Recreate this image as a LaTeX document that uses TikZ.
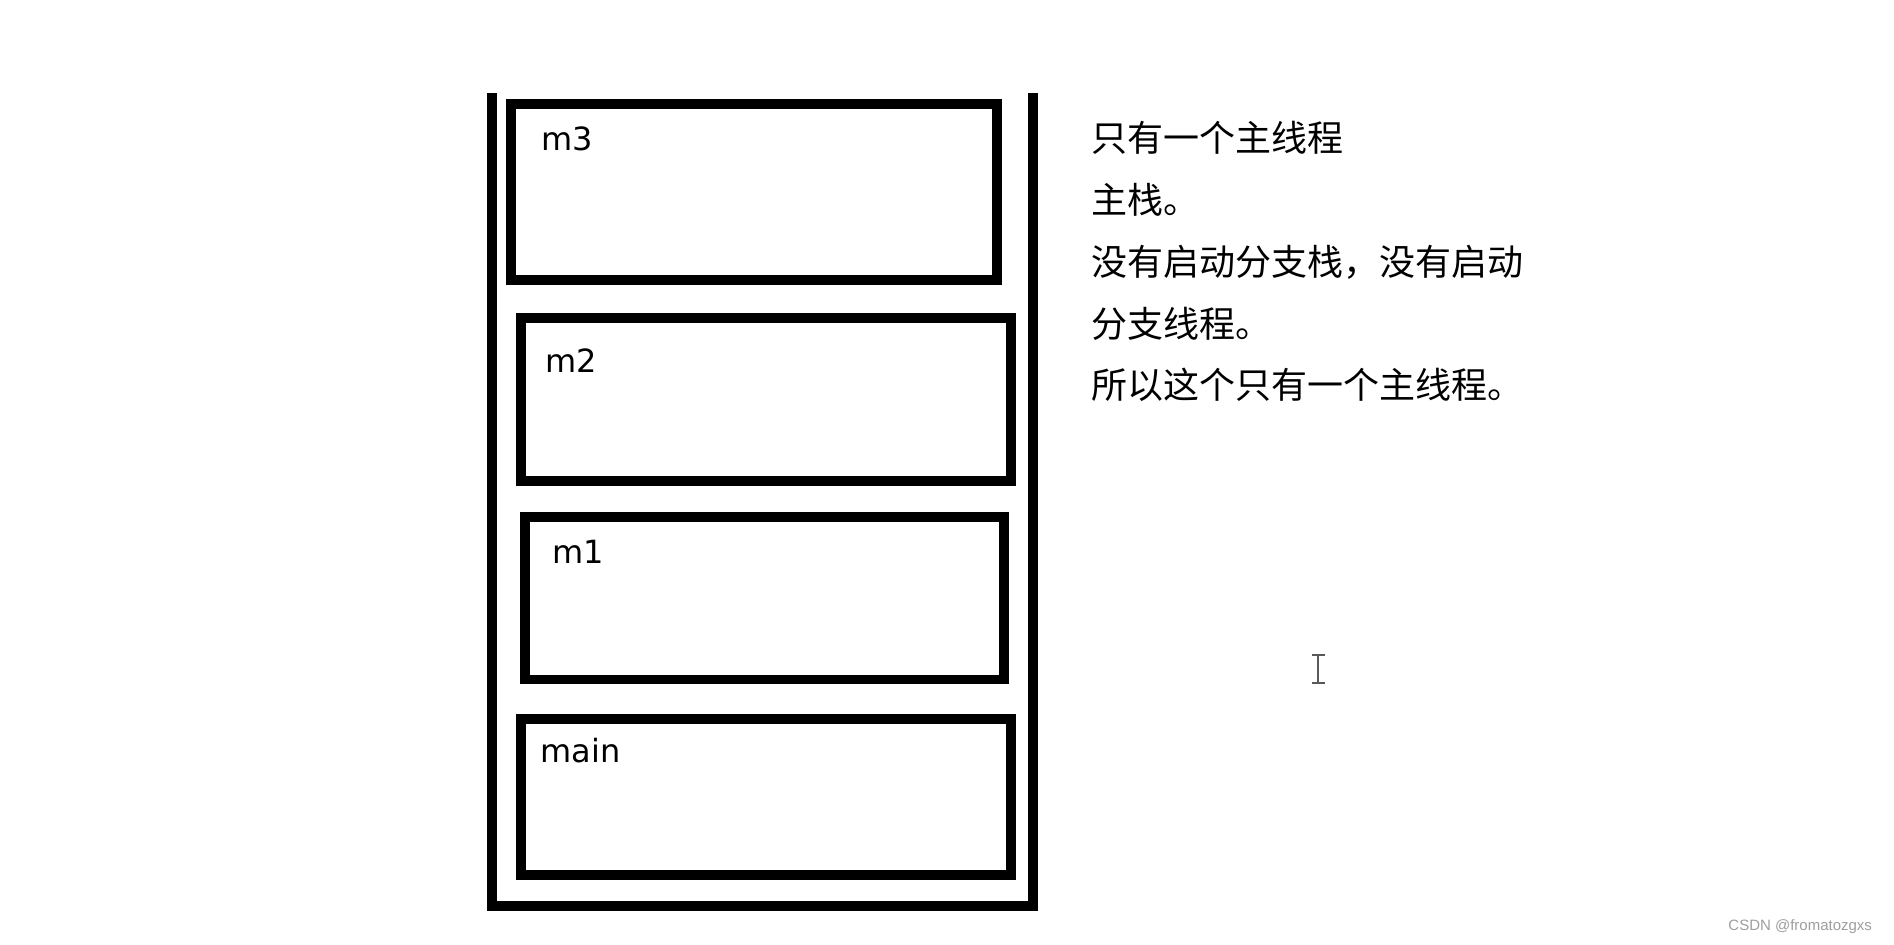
\documentclass[tikz,border=0pt]{standalone}
\usepackage{fontspec}
\setmainfont{DejaVu Sans}
\newfontfamily\cjk{Noto Sans CJK SC}
\newfontfamily\wmfont{Liberation Sans}
\usepackage{xcolor}
\usepackage{tikz}
\usetikzlibrary{positioning}

\begin{document}
\begin{tikzpicture}[x=0.5pt, y=-0.5pt,
  frame/.style={draw, line width=4.8pt, inner sep=0pt},
  lbl/.style={anchor=base west, inner sep=0pt, font=\fontsize{16pt}{19pt}\selectfont},
  note/.style={anchor=base west, inner sep=0pt, font=\cjk\fontsize{18pt}{22pt}\selectfont},
  wall/.style={line width=4.8pt},
  cursor/.style={line width=1pt, color=black!65}]
\useasboundingbox (0,0) rectangle (1894,944);
% the stack, open at the top
\draw[wall] (492,93) -- (492,906) -- (1033,906) -- (1033,93);
% frames
\node[frame, minimum width=243pt, minimum height=88pt] (m3box) at (754,192) {};
\node[frame, minimum width=245pt, minimum height=81.5pt] (m2box) at (766,399.5) {};
\node[frame, minimum width=239.5pt, minimum height=81.25pt] (m1box) at (764.5,598.25) {};
\node[frame, minimum width=245pt, minimum height=77.85pt] (mainbox) at (766,796.85) {};
\node[lbl] (m3) at (541,150) {m3};
\node[lbl] (m2) at (545,372.7) {m2};
\node[lbl] (m1) at (552,563) {m1};
\node[lbl] (main) at (540,762) {main};
% notes on the right
\node[note] (n1) at (1091,151) {只有一个主线程};
\node[note] (n2) at (1091,213) {主栈。};
\node[note] (n3) at (1091,275) {没有启动分支栈，没有启动};
\node[note] (n4) at (1091,337) {分支线程。};
\node[note] (n5) at (1091,398) {所以这个只有一个主线程。};
% mouse cursor
\draw[cursor] (1318,655) -- (1318,683);
\draw[cursor] (1312,655) -- (1325,655);
\draw[cursor] (1312,683) -- (1325,683);
\node[anchor=base west, inner sep=0pt, text=black!38, font=\wmfont\fontsize{7.5pt}{9pt}\selectfont] (wm) at (1728,930) {CSDN @fromatozgxs};
\end{tikzpicture}
\end{document}
